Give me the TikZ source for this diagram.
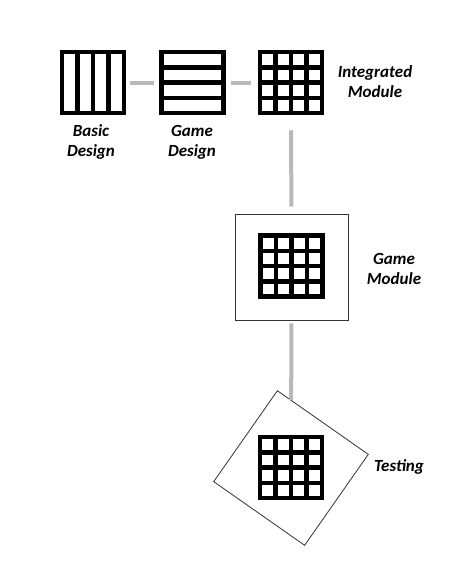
\documentclass[tikz,border=0pt]{standalone}
\usepackage{fontspec}
\setmainfont{Carlito}
\usetikzlibrary{calc}

\tikzset{
  tile/.style={draw, fill=white, line width=4.5pt, minimum width=62pt, minimum height=61pt, inner sep=0pt},
  vbars/.style={tile, path picture={
    \foreach \i in {1,2,3}
      \draw[line width=4.5pt] ($(path picture bounding box.north west)!\i/4!(path picture bounding box.north east)$) -- ($(path picture bounding box.south west)!\i/4!(path picture bounding box.south east)$);}},
  hbars/.style={tile, path picture={
    \foreach \i in {1,2,3}
      \draw[line width=4.5pt] ($(path picture bounding box.north west)!\i/4!(path picture bounding box.south west)$) -- ($(path picture bounding box.north east)!\i/4!(path picture bounding box.south east)$);}},
  grid/.style={tile, path picture={
    \foreach \i in {1,2,3} {
      \draw[line width=4.5pt] ($(path picture bounding box.north west)!\i/4!(path picture bounding box.north east)$) -- ($(path picture bounding box.south west)!\i/4!(path picture bounding box.south east)$);
      \draw[line width=4.5pt] ($(path picture bounding box.north west)!\i/4!(path picture bounding box.south west)$) -- ($(path picture bounding box.north east)!\i/4!(path picture bounding box.south east)$);
    }}},
  frame/.style={draw=black!80, fill=white, line width=0.8pt, inner sep=0pt},
  link/.style={draw=gray!55, line width=4pt},
  caption/.style={align=center, font=\fontsize{17}{20}\selectfont\bfseries\itshape}
}

\begin{document}
\begin{tikzpicture}[x=1pt, y=-1pt]
\useasboundingbox (0,0) rectangle (474,576);

% Top row of tiles
\node[vbars] (basic) at (93,82.5) {};
\node[hbars] (gamedesign) at (192.5,82.5) {};
\node[grid] (integrated) at (291,82.5) {};

% Framed tiles
\node[frame, minimum width=113pt, minimum height=106pt] (gmframe) at (291.5,267) {};
\node[grid] (gamemodule) at (291.5,266) {};
\node[frame, rotate=-35, minimum size=111pt] (testframe) at (291,468) {};
\node[grid] (testing) at (291,467.5) {};

% Connectors
\draw[link, shorten <=4pt, shorten >=5pt] (basic) -- (gamedesign);
\draw[link, shorten <=5pt, shorten >=7pt] (gamedesign) -- (integrated);
\draw[link, shorten <=15pt, shorten >=7pt] (integrated) -- (gmframe);
\draw[link, shorten <=3pt] (gmframe) -- (testframe);

% Labels
\node[caption] (lbasic) at (91,142) {Basic\\Design};
\node[caption] (lgamedesign) at (192,142) {Game\\Design};
\node[caption] (lintegrated) at (375,82) {Integrated\\Module};
\node[caption] (lgamemodule) at (394,269) {Game\\Module};
\node[caption] (ltesting) at (399,467) {Testing};
\end{tikzpicture}
\end{document}
